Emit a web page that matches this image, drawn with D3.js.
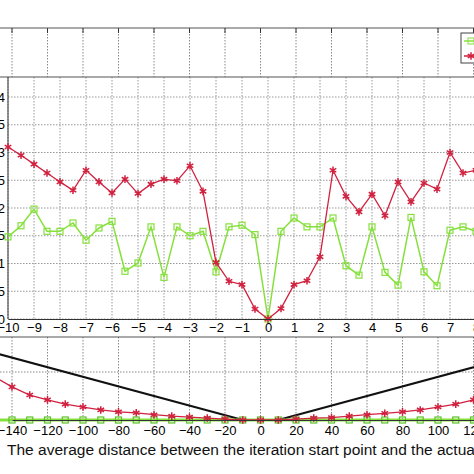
<!DOCTYPE html>
<html><head><meta charset="utf-8">
<script src="https://cdn.jsdelivr.net/npm/d3@7"></script>
<style>body{margin:0;background:#fff}svg{display:block;font-family:"Liberation Sans",Arial,sans-serif}</style>
</head><body><div id="vis"></div>
<script>
const W = 474, H = 474;

// middle panel (zoomed view)
const midX = [-10,-9.5,-9,-8.5,-8,-7.5,-7,-6.5,-6,-5.5,-5,-4.5,-4,-3.5,-3,-2.5,-2,-1.5,-1,-0.5,0,0.5,1,1.5,2,2.5,3,3.5,4,4.5,5,5.5,6,6.5,7,7.5,8];
const midRed = [3.10,2.95,2.79,2.63,2.47,2.32,2.68,2.47,2.27,2.52,2.26,2.43,2.52,2.49,2.76,2.30,1.02,0.68,0.62,0.18,0,0.19,0.62,0.69,1.12,2.68,2.21,1.93,2.25,1.86,2.47,2.11,2.45,2.34,3.0,2.63,2.68];
const midGreen = [1.48,1.68,1.98,1.58,1.58,1.73,1.42,1.64,1.76,0.86,1.01,1.66,0.75,1.66,1.50,1.58,0.85,1.66,1.69,1.52,0,1.58,1.82,1.66,1.66,1.82,0.96,0.79,1.66,0.84,0.61,1.83,0.85,0.60,1.60,1.66,1.58];
const midXTicks = [-10,-9,-8,-7,-6,-5,-4,-3,-2,-1,0,1,2,3,4,5,6,7,8];
const midYTicks = [0,0.5,1,1.5,2,2.5,3,3.5,4];

// bottom panel (full range)
const lowX = [-150,-140,-130,-120,-110,-100,-90,-80,-70,-60,-50,-40,-30,-20,-10,0,10,20,30,40,50,60,70,80,90,100,110,120,130];
const lowRed = [90,69,52,42,33,27,21,17,15,11,8,6,4,2,0,0,0,2,4,5,8,11,14,17,21,27,33,42,55];
const lowGreen = lowX.map(() => 0);
const blackX = [-160,-10,10,140];
const blackY = [150,0,0,130];
const lowXTicks = [-140,-120,-100,-80,-60,-40,-20,0,20,40,60,80,100,120];

const RED = "#d0213f", GREEN = "#86e03c";

const svg = d3.select("#vis").append("svg").attr("width", W).attr("height", H);

// shared x scale for the outer (top/bottom) panels
const XL = d3.scaleLinear().domain([-140, 120]).range([12, 473.5]);
const YL = d3.scaleLinear().domain([0, 100]).range([420, 372]);

// top panel strip
const topG = svg.append("g");
lowXTicks.concat([140]).forEach(t => {
  topG.append("line").attr("x1", XL(t)).attr("x2", XL(t)).attr("y1", 28).attr("y2", 77)
    .attr("stroke", "#888").attr("stroke-dasharray", "1.5,1.5");
  topG.append("line").attr("x1", XL(t)).attr("x2", XL(t)).attr("y1", 28).attr("y2", 33).attr("stroke", "#333");
});
topG.append("line").attr("x1", 0).attr("x2", W).attr("y1", 28).attr("y2", 28).attr("stroke", "#555").attr("stroke-width", 1.2);

// legend (clipped at the right edge)
const lg = svg.append("g");
lg.append("rect").attr("x", 461).attr("y", 33).attr("width", 30).attr("height", 30).attr("fill", "#fff").attr("stroke", "#444");
lg.append("line").attr("x1", 464).attr("x2", 480).attr("y1", 41).attr("y2", 41).attr("stroke", GREEN).attr("stroke-width", 1.5);
lg.append("rect").attr("x", 468).attr("y", 38).attr("width", 6).attr("height", 6).attr("fill", "none").attr("stroke", GREEN);
lg.append("line").attr("x1", 464).attr("x2", 480).attr("y1", 56).attr("y2", 56).attr("stroke", RED).attr("stroke-width", 1.5);
lg.append("path").attr("transform", "translate(471,56)").attr("d", d3.symbol(d3.symbolAsterisk, 40)()).attr("stroke", RED).attr("stroke-width", 1.5);

// bottom panel
const low = svg.append("g");
[0, 100].forEach(v => {
  low.append("line").attr("x1", 0).attr("x2", W).attr("y1", YL(v)).attr("y2", YL(v))
    .attr("stroke", "#888").attr("stroke-dasharray", "1.5,1.5");
});
lowXTicks.forEach(t => {
  low.append("line").attr("x1", XL(t)).attr("x2", XL(t)).attr("y1", 337).attr("y2", 420)
    .attr("stroke", "#888").attr("stroke-dasharray", "1.5,1.5");
});
low.append("path").datum(blackX.map((x, i) => [x, blackY[i]]))
  .attr("d", d3.line().x(d => XL(d[0])).y(d => YL(d[1])))
  .attr("fill", "none").attr("stroke", "#111").attr("stroke-width", 2.2);
const lowLine = d3.line().x(d => XL(d[0])).y(d => YL(d[1]));
low.append("path").datum(lowX.map((x, i) => [x, lowGreen[i]])).attr("d", lowLine)
  .attr("fill", "none").attr("stroke", GREEN).attr("stroke-width", 3);
low.selectAll(".gsq").data(lowX.map((x, i) => [x, lowGreen[i]])).enter().append("rect")
  .attr("x", d => XL(d[0]) - 3).attr("y", d => YL(d[1]) - 3).attr("width", 6).attr("height", 6)
  .attr("fill", "none").attr("stroke", "#5cc12a").attr("stroke-width", 1.2);
low.append("path").datum(lowX.map((x, i) => [x, lowRed[i]])).attr("d", lowLine)
  .attr("fill", "none").attr("stroke", RED).attr("stroke-width", 1.3);
low.selectAll(".rst").data(lowX.map((x, i) => [x, lowRed[i]])).enter().append("path")
  .attr("transform", d => `translate(${XL(d[0])},${YL(d[1])})`)
  .attr("d", d3.symbol(d3.symbolAsterisk, 40)()).attr("stroke", RED).attr("stroke-width", 1.5);
low.append("g").attr("transform", "translate(0,420)")
  .call(d3.axisBottom(XL).tickValues(lowXTicks).tickSize(0).tickPadding(6))
  .call(g => g.select(".domain").attr("stroke", "#333"))
  .attr("font-size", "13px").attr("font-family", "Liberation Sans, Arial, sans-serif");
svg.append("text").attr("x", 7).attr("y", 455).attr("font-size", "15.5px").attr("fill", "#111")
  .text("The average distance between the iteration start point and the actual phase");

// middle (zoomed) panel on a white card
const XM = d3.scaleLinear().domain([-10, 8]).range([8, 476]);
const YM = d3.scaleLinear().domain([0, 4]).range([319, 97]);
const mid = svg.append("g");
mid.append("rect").attr("x", 0).attr("y", 77).attr("width", W).attr("height", 260).attr("fill", "#fff");
midYTicks.forEach(v => {
  mid.append("line").attr("x1", 8).attr("x2", W).attr("y1", YM(v)).attr("y2", YM(v))
    .attr("stroke", "#999").attr("stroke-dasharray", "1.5,1.5");
});
midXTicks.forEach(t => {
  mid.append("line").attr("x1", XM(t)).attr("x2", XM(t)).attr("y1", 77).attr("y2", 319)
    .attr("stroke", "#999").attr("stroke-dasharray", "1.5,1.5");
});
mid.append("line").attr("x1", 0).attr("x2", W).attr("y1", 77).attr("y2", 77).attr("stroke", "#555").attr("stroke-width", 1.2);
mid.append("line").attr("x1", 0).attr("x2", W).attr("y1", 337).attr("y2", 337).attr("stroke", "#555").attr("stroke-width", 1.2);
mid.append("line").attr("x1", 8).attr("x2", 8).attr("y1", 77).attr("y2", 319).attr("stroke", "#333");
const midLine = d3.line().x(d => XM(d[0])).y(d => YM(d[1]));
const gData = midX.map((x, i) => [x, midGreen[i]]);
const rData = midX.map((x, i) => [x, midRed[i]]);
mid.append("path").datum(gData).attr("d", midLine).attr("fill", "none").attr("stroke", GREEN).attr("stroke-width", 1.5);
mid.selectAll(".gsq").data(gData).enter().append("rect")
  .attr("x", d => XM(d[0]) - 3).attr("y", d => YM(d[1]) - 3).attr("width", 6).attr("height", 6)
  .attr("fill", "none").attr("stroke", GREEN).attr("stroke-width", 1.2);
mid.append("path").datum(rData).attr("d", midLine).attr("fill", "none").attr("stroke", RED).attr("stroke-width", 1.3);
mid.selectAll(".rst").data(rData).enter().append("path")
  .attr("transform", d => `translate(${XM(d[0])},${YM(d[1])})`)
  .attr("d", d3.symbol(d3.symbolAsterisk, 40)()).attr("stroke", RED).attr("stroke-width", 1.5);
mid.append("g").attr("transform", "translate(0,319)")
  .call(d3.axisBottom(XM).tickValues(midXTicks).tickSize(0).tickPadding(4))
  .call(g => g.select(".domain").attr("stroke", "#333"))
  .attr("font-size", "13px").attr("font-family", "Liberation Sans, Arial, sans-serif");
mid.append("g").attr("transform", "translate(8,0)")
  .call(d3.axisLeft(YM).tickValues(midYTicks).tickSize(0).tickPadding(3).tickFormat(d3.format("")))
  .call(g => g.select(".domain").remove())
  .attr("font-size", "13px").attr("font-family", "Liberation Sans, Arial, sans-serif");
</script></body></html>
